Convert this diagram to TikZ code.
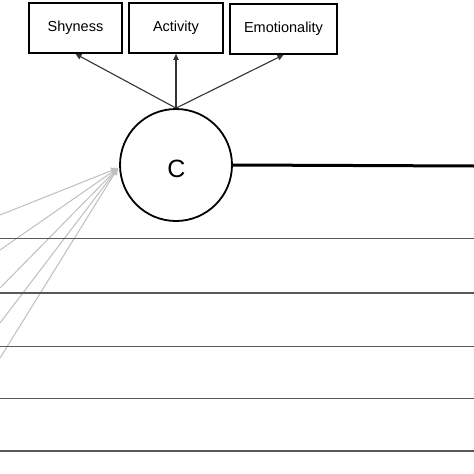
\documentclass[tikz,border=0pt]{standalone}
\usepackage{fontspec}
\setmainfont{Liberation Sans}
\usetikzlibrary{arrows.meta}
\begin{document}
\begin{tikzpicture}[x=1pt,y=-1pt,
  box/.style={draw=black,line width=1.8pt,minimum width=#1,minimum height=50pt,inner sep=0pt,font=\fontsize{14.5}{16}\selectfont},
  latent/.style={draw=black,line width=1.8pt,circle,minimum size=112pt,inner sep=0pt,font=\fontsize{25}{28}\selectfont},
  load/.style={draw=black!80,line width=1.1pt,-{Triangle[length=6pt,width=5.5pt]}},
  pred/.style={draw=black!25,line width=1pt,-{Triangle[length=7pt,width=6pt]}},
  rule/.style={draw=black!65,line width=1.6pt},
  heavy/.style={draw=black,line width=3pt}]
\useasboundingbox (0,0) rectangle (474,474);
\fill[white] (0,0) rectangle (474,474);
\node[box=93pt] (shy) at (75.5,28) {Shyness};
\node[box=94pt] (act) at (176,28) {Activity};
\node[box=107pt] (emo) at (283.5,29) {Emotionality};
\node[latent] (c) at (176,165) {};
\node[font=\fontsize{25}{28}\selectfont,inner sep=0pt] (cl) at (176.5,168.5) {C};
\draw[load] (c.north) -- (shy.south);
\draw[load] (c.north) -- (act.south);
\draw[load] (c.north) -- (emo.south);
\coordinate (re) at (474,166);
\draw[heavy] (c.east) -- (re);
\coordinate (tip) at (118,168);
\foreach \y [count=\i] in {215,250,288,323,358}{
  \coordinate (p\i) at (0,\y);
  \draw[pred] (p\i) -- (tip);
}
\foreach \y [count=\i] in {238.5,293,346.5,398.5,451}{
  \coordinate (l\i) at (0,\y);
  \coordinate (r\i) at (474,\y);
  \draw[rule] (l\i) -- (r\i);
}
\end{tikzpicture}
\end{document}
